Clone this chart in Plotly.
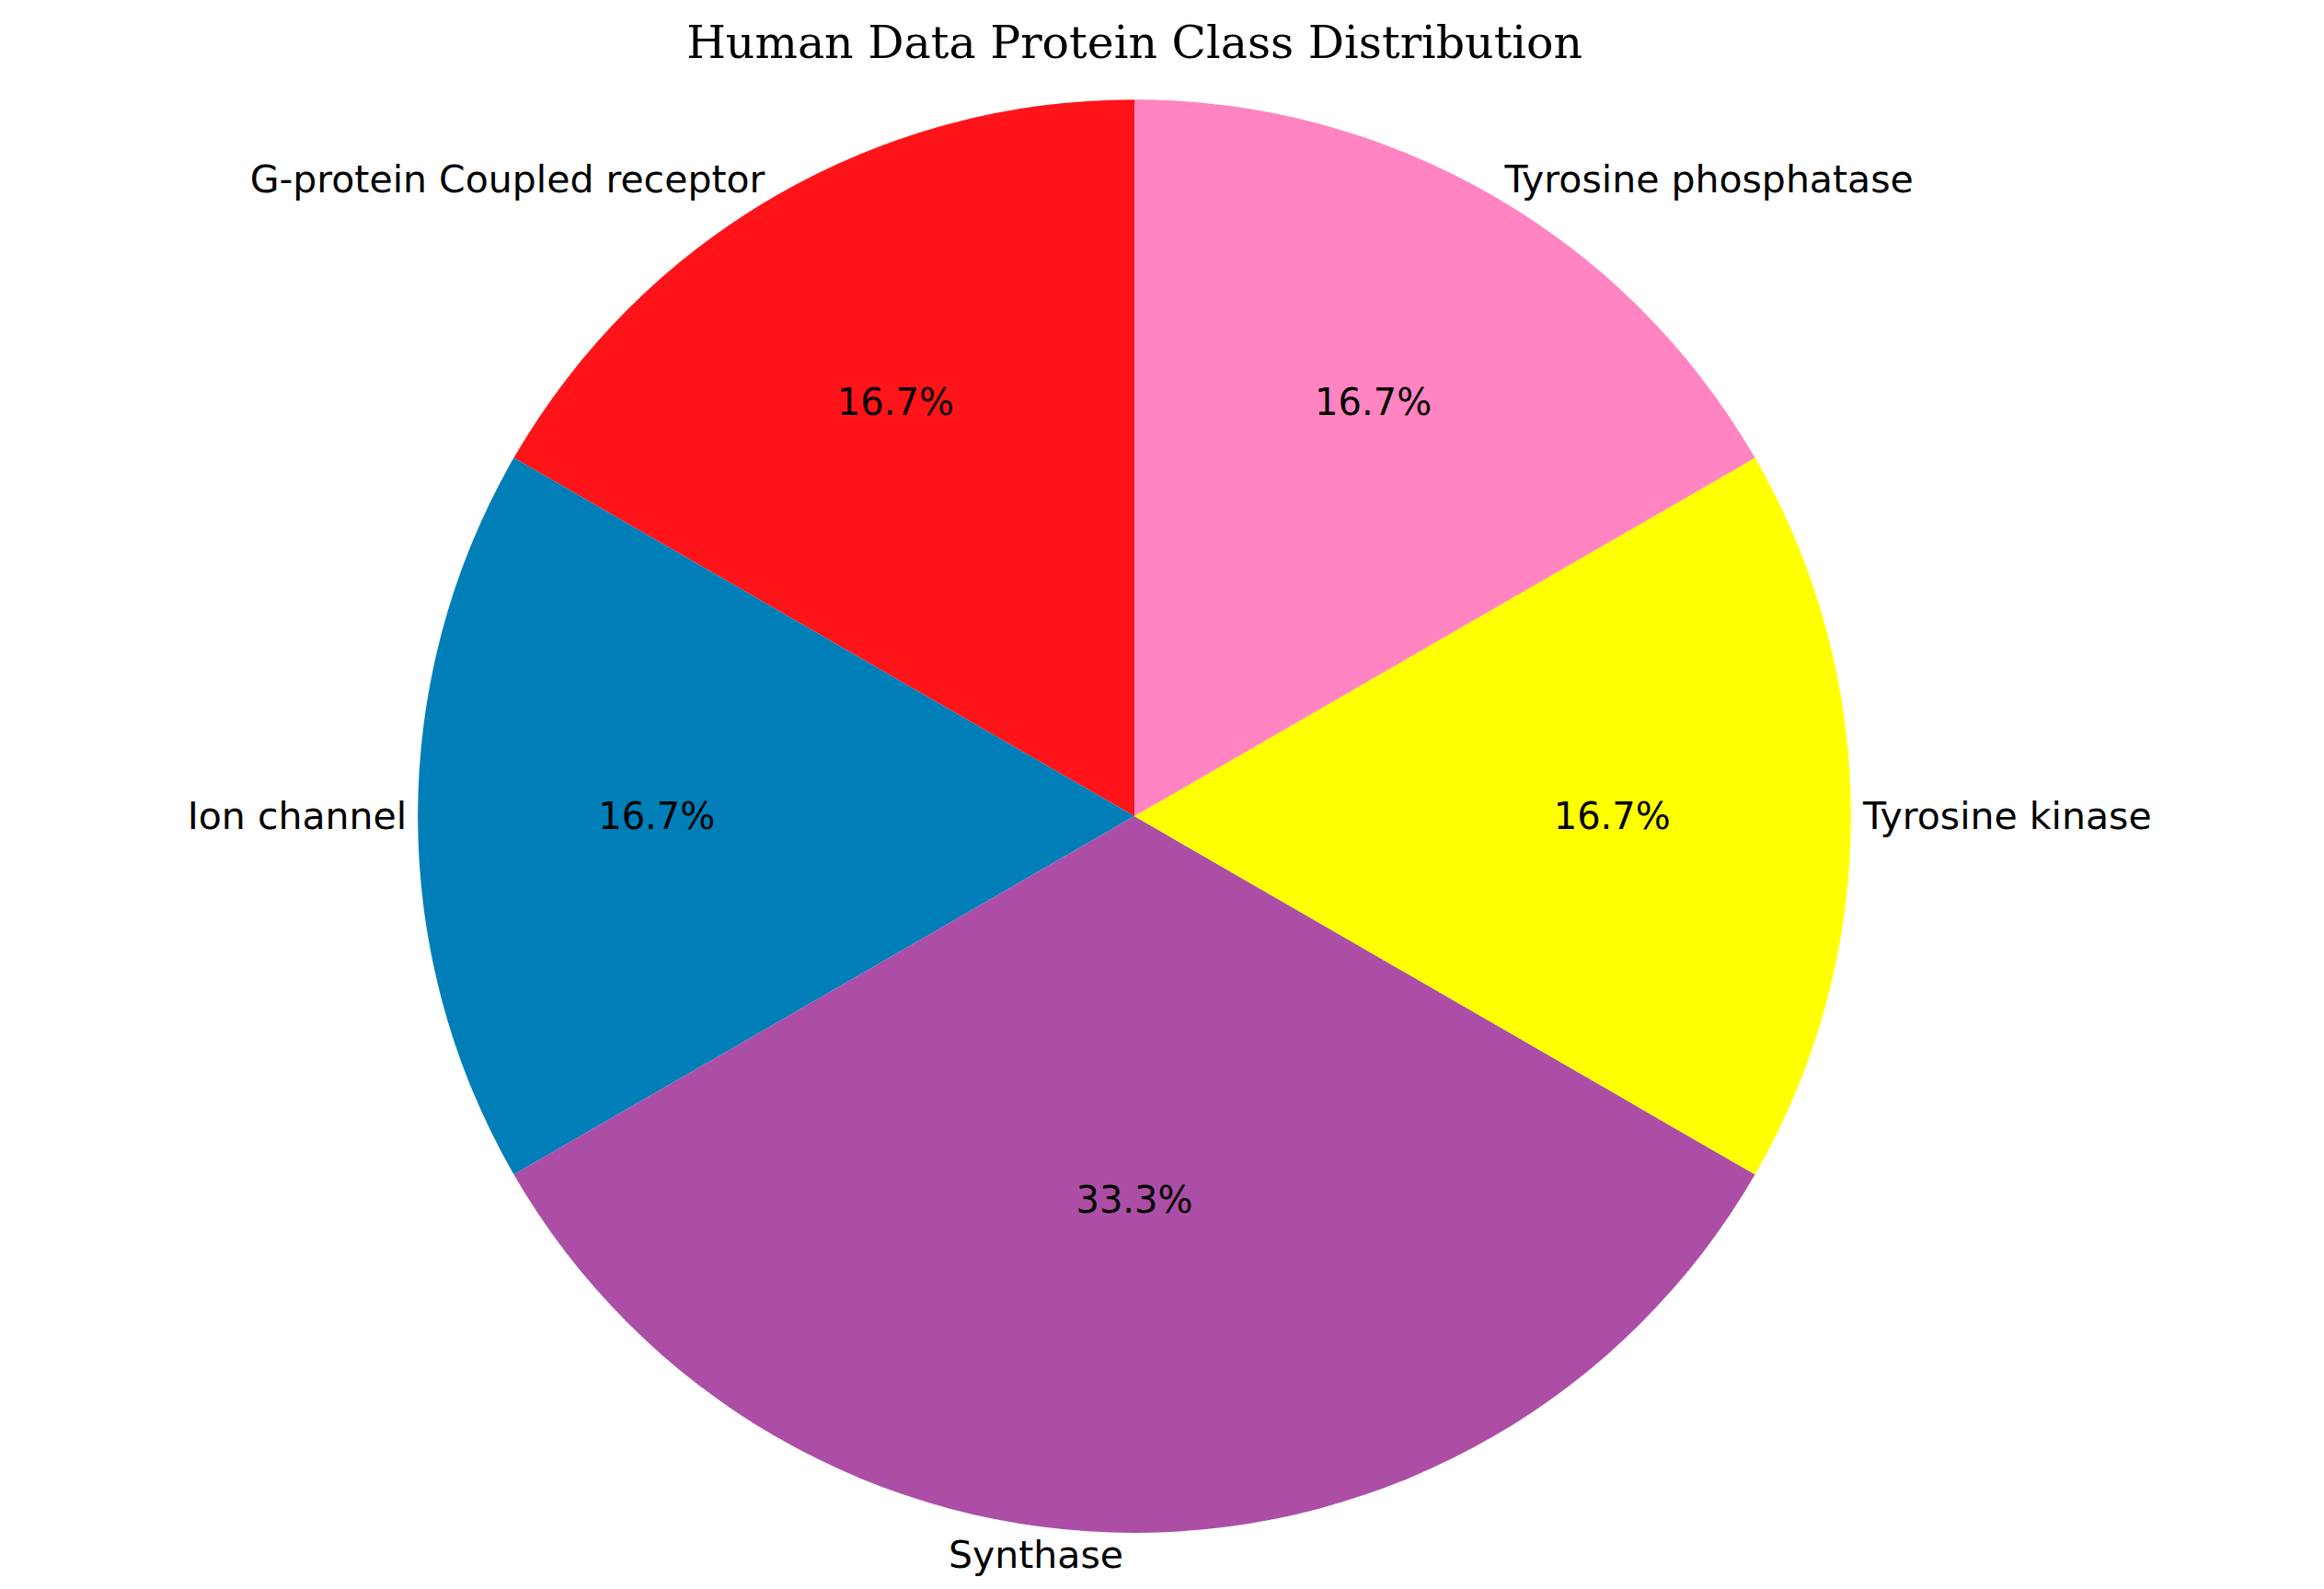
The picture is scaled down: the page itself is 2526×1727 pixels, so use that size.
import plotly.graph_objects as go

# slice data, in matplotlib draw order (start at 12 o'clock, counterclockwise)
classes = ["G-protein Coupled receptor", "Ion channel", "Synthase",
           "Tyrosine kinase", "Tyrosine phosphatase"]
counts = [1, 1, 2, 1, 1]
slice_colors = ["#FF1419", "#007EB8", "#AC4EA5", "#FFFF00", "#FF84C1"]

TITLE = "Human Data Protein Class Distribution"
SANS = "DejaVu Sans, Verdana, sans-serif"
SERIF = "DejaVu Serif, Georgia, serif"

domain = {"x": [0.0, 1.0], "y": [0.04, 0.942]}

fig = go.Figure()

# coloured wedges with percentages inside
fig.add_trace(go.Pie(
    labels=classes, values=counts, sort=False,
    direction="counterclockwise", rotation=-60,
    marker=dict(colors=slice_colors, line=dict(width=0)),
    texttemplate="%{percent:.1%}", textposition="inside",
    insidetextorientation="horizontal",
    textfont=dict(family=SANS, size=40, color="black"),
    showlegend=False, domain=domain,
))

# transparent copy that carries the class names outside the pie
fig.add_trace(go.Pie(
    labels=classes, values=counts, sort=False,
    direction="counterclockwise", rotation=-60,
    marker=dict(colors=["rgba(0,0,0,0)"] * len(classes), line=dict(width=0)),
    texttemplate="%{label}", textposition="outside",
    outsidetextfont=dict(family=SANS, size=41, color="black"),
    hoverinfo="skip", showlegend=False, domain=domain,
))

fig.update_layout(
    width=2526, height=1727,
    paper_bgcolor="white", plot_bgcolor="white",
    margin=dict(l=0, r=0, t=0, b=0),
    title=dict(text=TITLE, x=0.485, xanchor="center", y=0.978, yanchor="middle",
               font=dict(family=SERIF, size=49, color="black")),
)

fig.write_html("out.html")
